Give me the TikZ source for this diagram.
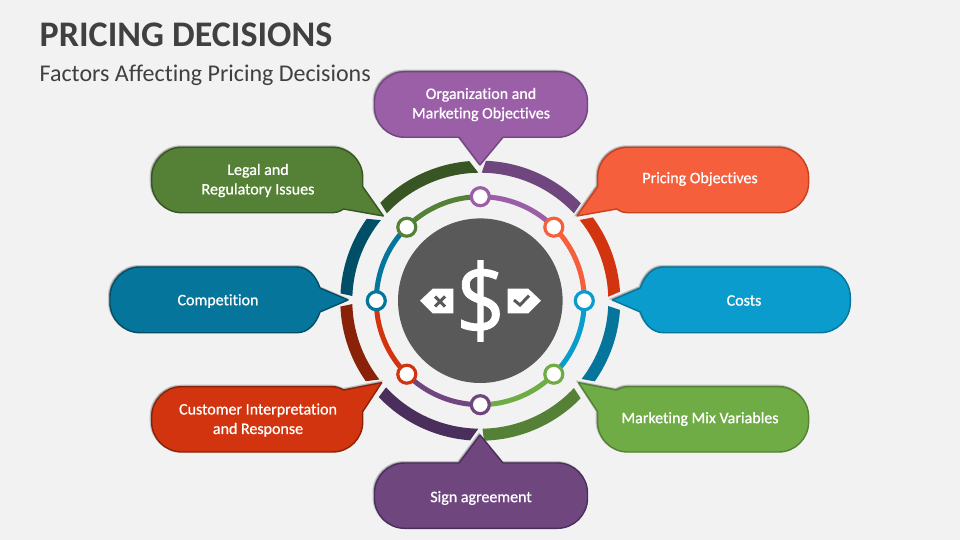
\documentclass[tikz,border=0pt]{standalone}
\usepackage{fontspec}
\setmainfont[Ligatures=NoCommon]{Carlito}
\newfontfamily\bubfont[Ligatures=NoCommon,FakeBold=0.8]{Carlito}
\newfontfamily\dollarfont[FakeBold=0.9]{Open Sans}
\definecolor{bgc}{HTML}{F2F2F2}
\definecolor{titlec}{HTML}{404040}
\definecolor{subc}{HTML}{404040}
\definecolor{hubc}{HTML}{595959}
\definecolor{lpurple}{HTML}{9A5FA6}
\definecolor{mpurple}{HTML}{70467F}
\definecolor{dpurple}{HTML}{4A2E5C}
\definecolor{orange}{HTML}{F55F3C}
\definecolor{orangeb}{HTML}{C8401E}
\definecolor{lblue}{HTML}{0A9CCC}
\definecolor{teal}{HTML}{06759B}
\definecolor{dteal}{HTML}{004F66}
\definecolor{lgreen}{HTML}{6FAC46}
\definecolor{mgreen}{HTML}{548135}
\definecolor{dgreen}{HTML}{375623}
\definecolor{red}{HTML}{D2340F}
\definecolor{dred}{HTML}{8A2209}
\def\cx{480.3}
\def\cy{300.7}
\tikzset{
  bubtext/.style={text=white,align=center,font=\bubfont\fontsize{16}{19.5}\selectfont},
  ringnode/.style={circle,draw=#1,fill=white,line width=3.2pt,minimum size=18pt,inner sep=0pt},
  ringarc/.style={draw=#1,line width=5pt},
  bubshadow/.style={fill=black,draw=black,line width=2pt,opacity=0.2,shift={(-1,-1)}},
  bubbody/.style 2 args={fill=#1,draw=#2,line width=1.4pt,line join=round}
}
\newcommand{\band}[5]{%
  \fill[#1] plot[domain=#2:#3,samples=30] ({\cx+140*cos(\x)},{\cy-140*sin(\x)})
    -- plot[domain=#5:#4,samples=30] ({\cx+128*cos(\x)},{\cy-128*sin(\x)}) -- cycle;}
\newcommand{\ringseg}[3]{%
  \draw[ringarc=#1] plot[domain=#2:#3,samples=30] ({\cx+104*cos(\x)},{\cy-104*sin(\x)});}
\newcommand{\bubble}[3]{%
  \path[bubshadow] #3;
  \path[bubbody={#1}{#2}] #3;}
\begin{document}
\begin{tikzpicture}[x=1pt,y=-1pt]
\useasboundingbox (0,0) rectangle (960,540);
\fill[bgc] (0,0) rectangle (960,540);

\node[anchor=west,inner sep=0pt,text=titlec,font=\fontsize{36}{40}\selectfont\bfseries] (title) at (39.5,35) {PRICING DECISIONS};
\node[anchor=west,inner sep=0pt,text=subc,font=\fontsize{24}{28}\selectfont] (subtitle) at (39.5,75) {Factors Affecting Pricing Decisions};

% outer ring
\band{mpurple}{87.7}{44.1}{89.4}{43}
\band{red}{36.5}{3.7}{39.1}{1.8}
\band{teal}{-3.8}{-35.2}{-2.4}{-37.7}
\band{mgreen}{-44.2}{-88.5}{-43}{-89}
\band{dpurple}{-94.2}{-136.5}{-90.9}{-137.4}
\band{dred}{-144.9}{-177.6}{-142}{-178.5}
\band{dteal}{177}{144.2}{177.9}{141}
\band{dgreen}{135.6}{94.5}{136.9}{90.9}

% inner ring
\ringseg{lpurple}{90}{45}
\ringseg{orange}{45}{0}
\ringseg{lblue}{0}{-45}
\ringseg{lgreen}{-45}{-90}
\ringseg{mpurple}{-90}{-135}
\ringseg{red}{-135}{-180}
\ringseg{teal}{180}{135}
\ringseg{mgreen}{135}{90}

\node[ringnode=lpurple] (n1) at ({\cx},{\cy-104}) {};
\node[ringnode=orange] (n2) at ({\cx+73.5},{\cy-73.5}) {};
\node[ringnode=lblue] (n3) at ({\cx+104},{\cy}) {};
\node[ringnode=lgreen] (n4) at ({\cx+73.5},{\cy+73.5}) {};
\node[ringnode=mpurple] (n5) at ({\cx},{\cy+104}) {};
\node[ringnode=red] (n6) at ({\cx-73.5},{\cy+73.5}) {};
\node[ringnode=teal] (n7) at ({\cx-104},{\cy}) {};
\node[ringnode=mgreen] (n8) at ({\cx-73.5},{\cy-73.5}) {};

% hub
\node[circle,fill=hubc,minimum size=164.6pt,inner sep=0pt] (hub) at (\cx,\cy) {};
\node[text=white,inner sep=0pt,xscale=0.87,font=\dollarfont\fontsize{99}{99}\selectfont] (dollar) at (480.5,301) {\$};
\fill[white] (420,300.7) -- (432.7,288.7) -- (453.3,288.7) -- (453.3,313.3) -- (432.7,313.3) -- cycle;
\draw[hubc,line width=3pt] (435,296.5) -- (445,306.5) (445,296.5) -- (435,306.5);
\fill[white] (507.7,288.7) -- (528.3,288.7) -- (541,300.7) -- (528.3,313.3) -- (507.7,313.3) -- cycle;
\draw[hubc,line width=3pt] (514,300) -- (520,305) -- (529,295.7);

% callouts
\bubble{lpurple}{mpurple}{(404.5,71.7) -- (557.5,71.7) .. controls (574,71.7) and (587.5,85.2) .. (587.5,101.7) -- (587.5,107.3) .. controls (587.5,123.8) and (574,137.3) .. (557.5,137.3) -- (503,137.3) -- (480,165) -- (459,137.3) -- (404.5,137.3) .. controls (388,137.3) and (374.5,123.8) .. (374.5,107.3) -- (374.5,101.7) .. controls (374.5,85.2) and (388,71.7) .. (404.5,71.7) -- cycle}
\bubble{mpurple}{dpurple}{(404.5,463) -- (459,463) -- (480,435) -- (503,463) -- (557.5,463) .. controls (574,463) and (587.5,476.5) .. (587.5,493) -- (587.5,498.3) .. controls (587.5,514.8) and (574,528.3) .. (557.5,528.3) -- (404.5,528.3) .. controls (388,528.3) and (374.5,514.8) .. (374.5,498.3) -- (374.5,493) .. controls (374.5,476.5) and (388,463) .. (404.5,463) -- cycle}
\bubble{mgreen}{dgreen}{(181.7,147.3) -- (332.7,147.3) .. controls (349.2,147.3) and (362.7,160.8) .. (362.7,177.3) -- (362.7,186.7) -- (383.3,216) -- (343.5,209) .. controls (339,212) and (336,212.7) .. (332.7,212.7) -- (181.7,212.7) .. controls (165.2,212.7) and (151.7,199.2) .. (151.7,182.7) -- (151.7,177.3) .. controls (151.7,160.8) and (165.2,147.3) .. (181.7,147.3) -- cycle}
\bubble{orange}{orangeb}{(778.6,147.3) -- (627.6,147.3) .. controls (611.1,147.3) and (597.6,160.8) .. (597.6,177.3) -- (597.6,186.7) -- (577,216) -- (616.8,209) .. controls (621.3,212) and (624.3,212.7) .. (627.6,212.7) -- (778.6,212.7) .. controls (795.1,212.7) and (808.6,199.2) .. (808.6,182.7) -- (808.6,177.3) .. controls (808.6,160.8) and (795.1,147.3) .. (778.6,147.3) -- cycle}
\bubble{teal}{dteal}{(140,267) -- (297,267) .. controls (308,267) and (316,276) .. (320,288) -- (348,300) -- (320,312) .. controls (316,324) and (308,332.7) .. (297,332.7) -- (140,332.7) .. controls (123.5,332.7) and (110,319.2) .. (110,302.7) -- (110,297) .. controls (110,280.5) and (123.5,267) .. (140,267) -- cycle}
\bubble{lblue}{teal}{(820.3,267) -- (663.3,267) .. controls (652.3,267) and (644.3,276) .. (640.3,288) -- (612.3,300) -- (640.3,312) .. controls (644.3,324) and (652.3,332.7) .. (663.3,332.7) -- (820.3,332.7) .. controls (836.8,332.7) and (850.3,319.2) .. (850.3,302.7) -- (850.3,297) .. controls (850.3,280.5) and (836.8,267) .. (820.3,267) -- cycle}
\bubble{red}{dred}{(181.7,386.7) -- (332.7,386.7) .. controls (336,386.7) and (340,388) .. (344,390) -- (381.7,382.7) -- (362.7,411.7) -- (362.7,422) .. controls (362.7,438.5) and (349.2,452) .. (332.7,452) -- (181.7,452) .. controls (165.2,452) and (151.7,438.5) .. (151.7,422) -- (151.7,416.7) .. controls (151.7,400.2) and (165.2,386.7) .. (181.7,386.7) -- cycle}
\bubble{lgreen}{mgreen}{(778.6,386.7) -- (627.6,386.7) .. controls (624.3,386.7) and (620.3,388) .. (616.3,390) -- (578.6,382.7) -- (597.6,411.7) -- (597.6,422) .. controls (597.6,438.5) and (611.1,452) .. (627.6,452) -- (778.6,452) .. controls (795.1,452) and (808.6,438.5) .. (808.6,422) -- (808.6,416.7) .. controls (808.6,400.2) and (795.1,386.7) .. (778.6,386.7) -- cycle}

\node[bubtext] (t1) at (481,104.5) {Organization and\\Marketing Objectives};
\node[bubtext] (t2) at (700,179) {Pricing Objectives};
\node[bubtext] (t3) at (744,300.5) {Costs};
\node[bubtext] (t4) at (700,419) {Marketing Mix Variables};
\node[bubtext] (t5) at (481,498) {Sign agreement};
\node[bubtext] (t6) at (258,420) {Customer Interpretation\\and Response};
\node[bubtext] (t7) at (218,301) {Competition};
\node[bubtext] (t8) at (258,180.5) {Legal and\\Regulatory Issues};
\end{tikzpicture}
\end{document}
